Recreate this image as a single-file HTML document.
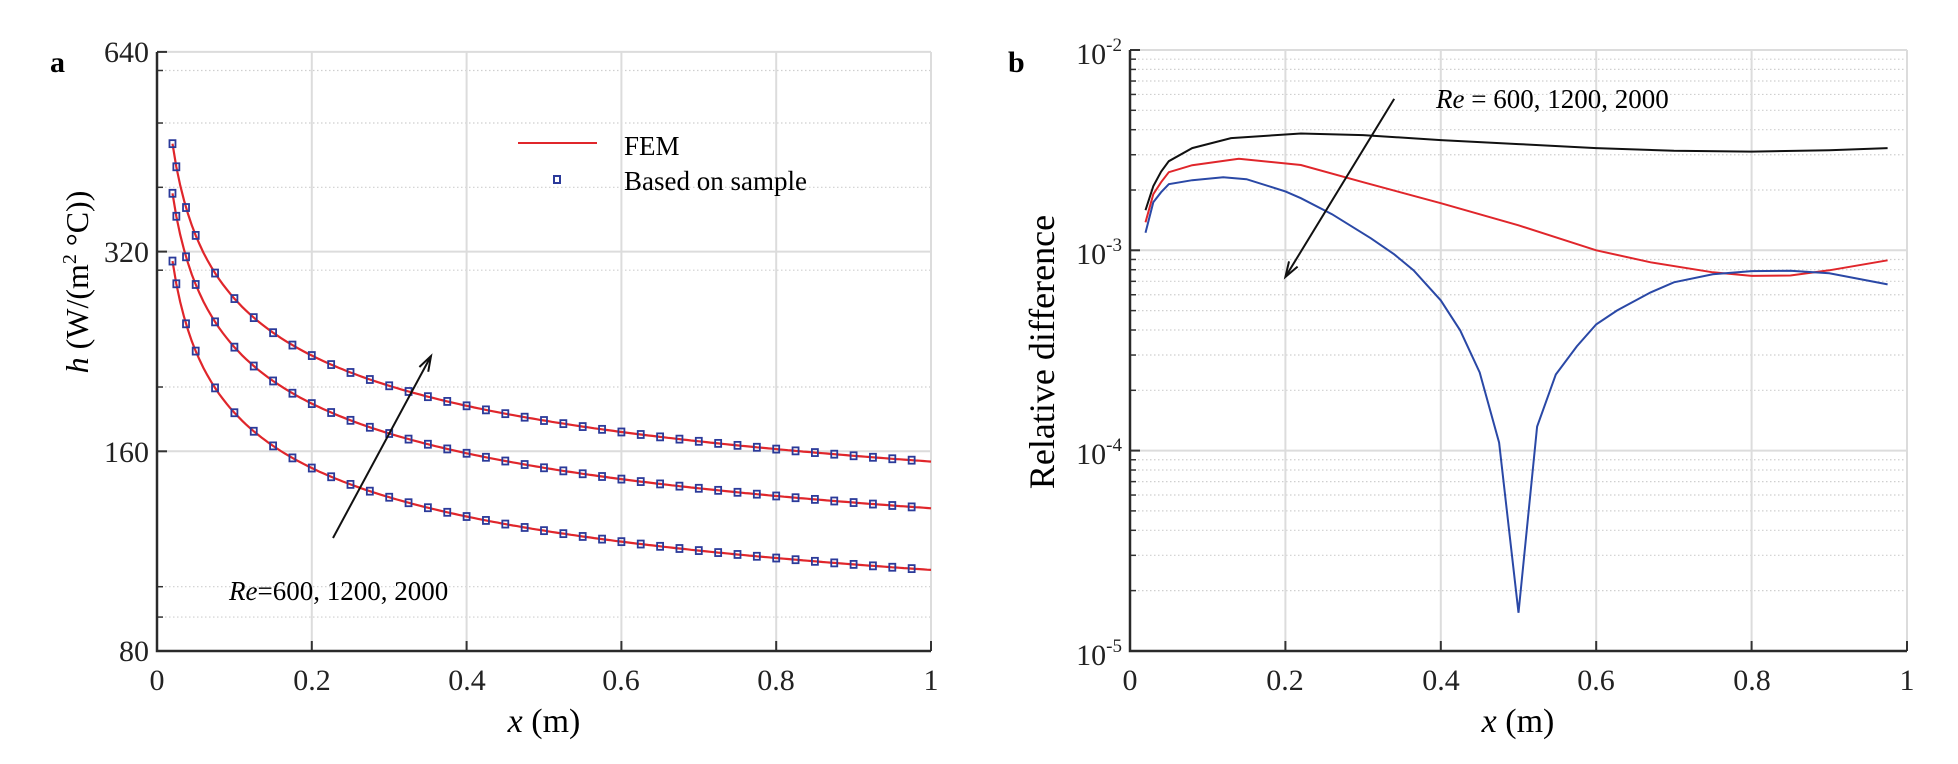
<!DOCTYPE html>
<html><head><meta charset="utf-8"><style>
html,body{margin:0;padding:0;background:#fff;}
svg{display:block;font-family:"Liberation Serif",serif;}
</style></head><body>
<svg id="s" width="1958" height="764" viewBox="0 0 1958 764" xmlns="http://www.w3.org/2000/svg">
<g id="grid"></g>
<g id="curves"></g>
<text x="50" y="72" font-size="30" font-weight="bold">a</text>
<g font-size="30" fill="#222" text-anchor="end">
<text x="149" y="62">640</text>
<text x="149" y="262">320</text>
<text x="149" y="462">160</text>
<text x="149" y="661">80</text>
</g>
<g font-size="30" fill="#222" text-anchor="middle">
<text x="157" y="690">0</text><text x="312" y="690">0.2</text><text x="467" y="690">0.4</text>
<text x="621" y="690">0.6</text><text x="776" y="690">0.8</text><text x="931" y="690">1</text>
</g>
<text x="544" y="732" font-size="34" text-anchor="middle"><tspan font-style="italic">x</tspan> (m)</text>
<text transform="translate(88,282) rotate(-90)" font-size="32" text-anchor="middle"><tspan font-style="italic">h</tspan> (W/(m<tspan font-size="20" dy="-12">2</tspan><tspan dy="12"> °C))</tspan></text>
<text x="229" y="600" font-size="27"><tspan font-style="italic">Re</tspan>=600, 1200, 2000</text>
<line x1="518" y1="143" x2="597" y2="143" stroke="#e0262b" stroke-width="2"/>
<rect x="554" y="176" width="6" height="7" fill="#fff" stroke="#2b3a9a" stroke-width="2"/>
<text x="624" y="155" font-size="27">FEM</text>
<text x="624" y="190" font-size="27">Based on sample</text>
<text x="1008" y="72" font-size="30" font-weight="bold">b</text>
<g font-size="30" fill="#222" text-anchor="end">
<text x="1122" y="64">10<tspan font-size="19" dy="-13">-2</tspan></text>
<text x="1122" y="264">10<tspan font-size="19" dy="-13">-3</tspan></text>
<text x="1122" y="464">10<tspan font-size="19" dy="-13">-4</tspan></text>
<text x="1122" y="665">10<tspan font-size="19" dy="-13">-5</tspan></text>
</g>
<g font-size="30" fill="#222" text-anchor="middle">
<text x="1130" y="690">0</text><text x="1285" y="690">0.2</text><text x="1441" y="690">0.4</text>
<text x="1596" y="690">0.6</text><text x="1752" y="690">0.8</text><text x="1907" y="690">1</text>
</g>
<text x="1518" y="732" font-size="34" text-anchor="middle"><tspan font-style="italic">x</tspan> (m)</text>
<text transform="translate(1054,352) rotate(-90)" font-size="36" text-anchor="middle">Relative difference</text>
<text x="1436" y="108" font-size="27"><tspan font-style="italic">Re</tspan> = 600, 1200, 2000</text>
</svg>
<script>
const NS="http://www.w3.org/2000/svg";
const G=document.getElementById('grid'),C=document.getElementById('curves');
function el(p,t,a){const e=document.createElementNS(NS,t);for(const k in a)e.setAttribute(k,a[k]);p.appendChild(e);return e;}
const LX=x=>157+x*774, LY=h=>651-Math.log2(h/80)*199.7;
const RX=x=>1130+x*777, RY=L=>50+(-2-L)*200.3;
[90,100,200,300,400,500,600].forEach(h=>{const y=LY(h);el(G,'line',{x1:157,x2:931,y1:y,y2:y,stroke:'#cfcfcf','stroke-width':1.2,'stroke-dasharray':'1.5 2.5'});el(G,'line',{x1:157,x2:163,y1:y,y2:y,stroke:'#333','stroke-width':1.5});});
[320,160,640].forEach(h=>{const y=LY(h);el(G,'line',{x1:157,x2:931,y1:y,y2:y,stroke:'#dcdcdc','stroke-width':2});el(G,'line',{x1:157,x2:167,y1:y,y2:y,stroke:'#333','stroke-width':2});});
[0.2,0.4,0.6,0.8,1].forEach(x=>{const X=LX(x);el(G,'line',{x1:X,x2:X,y1:52,y2:651,stroke:'#dcdcdc','stroke-width':2});el(G,'line',{x1:X,x2:X,y1:651,y2:641,stroke:'#333','stroke-width':2});});
el(G,'polyline',{points:`157,52 157,651 931,651`,fill:'none',stroke:'#2a2a2a','stroke-width':2.5});
for(let d=-5;d<-2;d++){for(let m=2;m<=9;m++){const y=RY(d+Math.log10(m));el(G,'line',{x1:1130,x2:1907,y1:y,y2:y,stroke:'#cfcfcf','stroke-width':1.2,'stroke-dasharray':'1.5 2.5'});el(G,'line',{x1:1130,x2:1136,y1:y,y2:y,stroke:'#333','stroke-width':1.5});}}
[-2,-3,-4].forEach(L=>{const y=RY(L);el(G,'line',{x1:1130,x2:1907,y1:y,y2:y,stroke:'#dcdcdc','stroke-width':2});el(G,'line',{x1:1130,x2:1140,y1:y,y2:y,stroke:'#333','stroke-width':2});});
[0.2,0.4,0.6,0.8,1].forEach(x=>{const X=RX(x);el(G,'line',{x1:X,x2:X,y1:50,y2:651,stroke:'#dcdcdc','stroke-width':2});el(G,'line',{x1:X,x2:X,y1:651,y2:641,stroke:'#333','stroke-width':2});});
el(G,'polyline',{points:`1130,50 1130,651 1907,651`,fill:'none',stroke:'#2a2a2a','stroke-width':2.5});
const params=[[63.7,42.3],[77.2,54.1],[89.8,64.6]];
const mx=[0.02,0.025,0.0375,0.05];for(let x=0.075;x<0.99;x+=0.025)mx.push(x);
params.forEach(([A,B])=>{let pts=[];for(let x=0.02;x<=1.0001;x+=0.005)pts.push(LX(x).toFixed(1)+','+LY(A+B*Math.pow(x,-0.45)).toFixed(1));
el(C,'polyline',{points:pts.join(' '),fill:'none',stroke:'#e0262b','stroke-width':2.2});
mx.forEach(x=>{el(C,'rect',{x:LX(x)-3,y:LY(A+B*Math.pow(x,-0.45))-3.5,width:6,height:7,fill:'none',stroke:'#2b3a9a','stroke-width':1.8});});});
function arrow(x1,y1,x2,y2){el(C,'line',{x1,y1,x2,y2,stroke:'#111','stroke-width':2});const a=Math.atan2(y2-y1,x2-x1),L=16,w=0.32;
el(C,'polyline',{points:`${x2-L*Math.cos(a-w)},${y2-L*Math.sin(a-w)} ${x2},${y2} ${x2-L*Math.cos(a+w)},${y2-L*Math.sin(a+w)}`,fill:'none',stroke:'#111','stroke-width':2});}
arrow(333,538,431,356);
const blk=[[0.02,-2.80],[0.03,-2.68],[0.04,-2.607],[0.05,-2.555],[0.08,-2.49],[0.13,-2.44],[0.22,-2.417],[0.3,-2.425],[0.4,-2.45],[0.5,-2.47],[0.6,-2.49],[0.7,-2.503],[0.8,-2.507],[0.9,-2.5],[0.975,-2.49]];
const red=[[0.02,-2.86],[0.03,-2.72],[0.04,-2.66],[0.05,-2.61],[0.08,-2.575],[0.14,-2.543],[0.22,-2.574],[0.3,-2.66],[0.4,-2.765],[0.5,-2.875],[0.6,-3.0],[0.67,-3.06],[0.75,-3.11],[0.8,-3.128],[0.85,-3.126],[0.9,-3.10],[0.975,-3.05]];
const blu=[[0.02,-2.912],[0.03,-2.76],[0.04,-2.71],[0.05,-2.67],[0.08,-2.65],[0.12,-2.635],[0.15,-2.645],[0.2,-2.706],[0.22,-2.74],[0.26,-2.82],[0.31,-2.94],[0.34,-3.02],[0.365,-3.10],[0.4,-3.25],[0.425,-3.40],[0.45,-3.61],[0.475,-3.96],[0.5,-4.81],[0.524,-3.88],[0.548,-3.62],[0.575,-3.48],[0.6,-3.37],[0.627,-3.30],[0.67,-3.21],[0.7,-3.16],[0.75,-3.12],[0.8,-3.104],[0.85,-3.102],[0.9,-3.115],[0.975,-3.17]];
[[blk,'#111'],[red,'#e0262b'],[blu,'#2a48a6']].forEach(([d,c])=>{el(C,'polyline',{points:d.map(p=>RX(p[0]).toFixed(1)+','+RY(p[1]).toFixed(1)).join(' '),fill:'none',stroke:c,'stroke-width':2});});
arrow(RX(0.34),RY(-2.244),RX(0.2),RY(-3.133));
</script>
</body></html>
